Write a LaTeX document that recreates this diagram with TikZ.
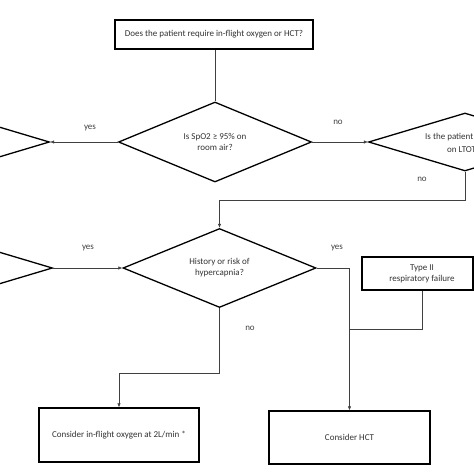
\documentclass[tikz,border=0pt]{standalone}
\usepackage{fontspec}
\setmainfont{Carlito}
\usetikzlibrary{shapes.geometric,arrows.meta}
\begin{document}
\begin{tikzpicture}[x=1pt,y=-1pt,
  every node/.style={font=\fontsize{9}{11}\selectfont, text=black!80},
  box/.style={draw=black, line width=1.3pt, fill=white, align=center, inner sep=0pt},
  diam/.style={diamond, draw=black, line width=1.3pt, align=center, inner sep=0pt, minimum width=193pt, minimum height=58pt},
  conn/.style={line width=0.6pt, draw=black!75},
  arr/.style={conn, -{Latex[length=4pt,width=3.5pt]}},
  txt/.style={inner sep=0pt, align=center},
  lbl/.style={inner sep=0pt, text=black!75}]
\useasboundingbox (0,0) rectangle (474,474);
\clip (0,0) rectangle (474,474);
% nodes
\node[box, minimum width=198pt, minimum height=29pt] (q) at (214,34.5) {Does the patient require in-flight oxygen or HCT?};
\node[diam] (d1) at (215,142) {Is SpO2 ≥ 95\% on\\room air?};
\node[diam] (dl1) at (-47,142) {};
\node[diam] (dr) at (465,142) {};
\node[txt, anchor=west] (drt1) at (425,137) {Is the patient};
\node[txt, anchor=west] (drt2) at (447,149) {on LTOT?};
\node[diam] (d3) at (219.5,268) {History or risk of\\hypercapnia?};
\node[diam] (dl2) at (-44,268) {};
\node[box, minimum width=111pt, minimum height=33pt] (t2) at (417.5,273.5) {};
\node[txt] (t2t) at (422,273.5) {Type II\\respiratory failure};
\node[box, minimum width=160pt, minimum height=54pt] (ox) at (119,435) {Consider in-flight oxygen at 2L/min *};
\node[box, minimum width=161pt, minimum height=53pt] (hct) at (349.5,437.5) {Consider HCT};
\coordinate (j) at (349.5,329);
% connectors
\draw[conn] (d1.north |- q.south) -- (d1.north);
\draw[arr] (d1.west) -- (dl1.east);
\draw[arr] (d1.east) -- (dr.west);
\draw[arr] (dr.south) -- ++(0,29) -| (d3.north);
\draw[arr] (dl2.east) -- (d3.west);
\draw[arr] (d3.east) -| (hct.north);
\draw[conn] (t2.south -| t2t.center) |- (j);
\draw[arr] (d3.south) -- ++(0,65) -| (ox.north);
% labels
\node[lbl] (y1) at (90,128) {yes};
\node[lbl] (n1) at (338,122) {no};
\node[lbl] (n2) at (422,179) {no};
\node[lbl] (y2) at (88,248) {yes};
\node[lbl] (y3) at (337,248) {yes};
\node[lbl] (n3) at (250,328) {no};
\end{tikzpicture}
\end{document}
